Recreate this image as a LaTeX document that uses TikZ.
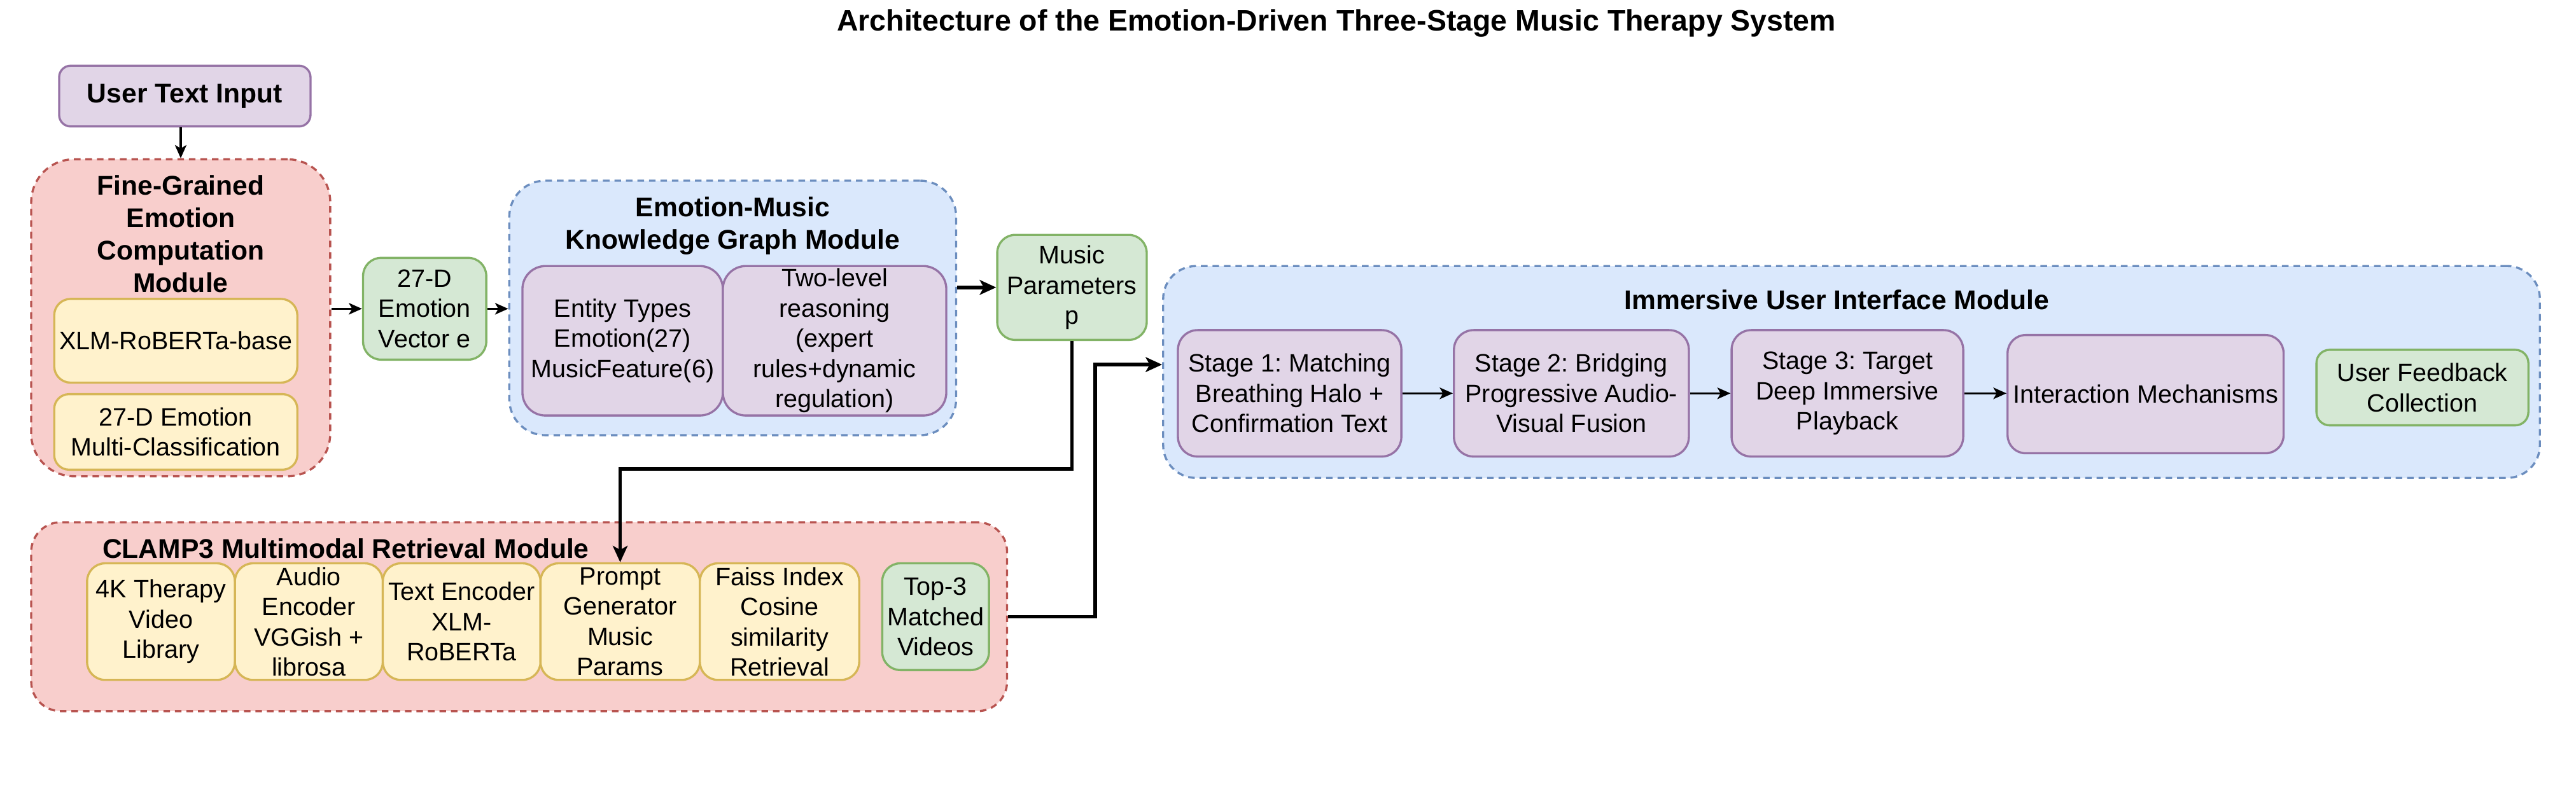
\documentclass[tikz,border=0pt]{standalone}
\usepackage{fontspec}
\setmainfont{Liberation Sans}
\usetikzlibrary{arrows.meta}
\frenchspacing
\definecolor{pfill}{HTML}{E1D5E7}\definecolor{pline}{HTML}{9673A6}
\definecolor{rfill}{HTML}{F8CECC}\definecolor{rline}{HTML}{B85450}
\definecolor{yfill}{HTML}{FFF2CC}\definecolor{yline}{HTML}{D6B656}
\definecolor{gfill}{HTML}{D5E8D4}\definecolor{gline}{HTML}{82B366}
\definecolor{bfill}{HTML}{DAE8FC}\definecolor{bline}{HTML}{6C8EBF}
\newcommand{\myfn}{\fontsize{15.3}{18.4}\selectfont}
\newcommand{\myfb}{\fontsize{16.5}{19.8}\selectfont\bfseries}
\newcommand{\myft}{\fontsize{18}{21.6}\selectfont\bfseries}
\begin{document}
\begin{tikzpicture}[x=1pt,y=-1pt,
  bx/.style={draw, line width=1.3pt, inner sep=0pt, align=center, font=\myfn},
  pbox/.style={bx, fill=pfill, draw=pline},
  ybox/.style={bx, fill=yfill, draw=yline},
  gbox/.style={bx, fill=gfill, draw=gline},
  rcont/.style={draw=rline, fill=rfill, dash pattern=on 4pt off 3pt, line width=1.3pt, inner sep=0pt},
  bcont/.style={draw=bline, fill=bfill, dash pattern=on 4pt off 3pt, line width=1.3pt, inner sep=0pt},
  ttl/.style={inner sep=0pt, align=center, font=\myfb},
  thin/.style={line width=1.3pt, -{Stealth[length=8pt,width=7pt,inset=2pt]}},
  thick/.style={line width=2.2pt, -{Stealth[length=10pt,width=9pt,inset=2.5pt]}}
]
\useasboundingbox[fill=white] (0,0) rectangle (1568,482);

\node[ttl, font=\myft] (title) at (813.5,14) {Architecture of the Emotion-Driven Three-Stage Music Therapy System};

% top input
\node[pbox, font=\myfb, minimum width=153pt, minimum height=37pt, rounded corners=7pt] (uti) at (112.5,58.5) {User Text Input};

% fine-grained container
\node[rcont, minimum width=182pt, minimum height=193pt, rounded corners=26pt] (fg) at (110,193.5) {};
\node[ttl] (fgt) at (110,142.5) {Fine-Grained\\Emotion\\Computation\\Module};
\node[ybox, minimum width=148pt, minimum height=51pt, rounded corners=10pt] (xlm) at (107,207.5) {XLM-RoBERTa-base};
\node[ybox, minimum width=148pt, minimum height=46pt, rounded corners=9pt] (mcls) at (107,263) {27-D Emotion\\Multi-Classification};

% emotion vector
\node[gbox, minimum width=75pt, minimum height=62pt, rounded corners=11pt] (vec) at (258.5,188) {27-D\\Emotion\\Vector e};

% KG container
\node[bcont, minimum width=272pt, minimum height=155pt, rounded corners=22pt] (kg) at (446,187.5) {};
\node[ttl] (kgt) at (446,137.5) {Emotion-Music\\Knowledge Graph Module};
\node[pbox, minimum width=122pt, minimum height=91pt, rounded corners=14pt] (ent) at (379,207.5) {Entity Types\\Emotion(27)\\MusicFeature(6)};
\node[pbox, minimum width=136pt, minimum height=91pt, rounded corners=14pt] (two) at (508,207.5) {Two-level\\reasoning\\(expert\\rules+dynamic\\regulation)};

% music params
\node[gbox, minimum width=91pt, minimum height=64pt, rounded corners=11pt] (mp) at (652.5,175) {Music\\Parameters\\p};

% UI container
\node[bcont, minimum width=838pt, minimum height=129pt, rounded corners=20pt] (ui) at (1127,226.5) {};
\node[ttl] (uit) at (1118,182.5) {Immersive User Interface Module};
\node[pbox, minimum width=136pt, minimum height=77pt, rounded corners=12pt] (s1) at (785,239.5) {Stage 1: Matching\\Breathing Halo +\\Confirmation Text};
\node[pbox, minimum width=143pt, minimum height=77pt, rounded corners=12pt] (s2) at (956.5,239.5) {Stage 2: Bridging\\Progressive Audio-\\Visual Fusion};
\node[pbox, minimum width=141pt, minimum height=77pt, rounded corners=12pt] (s3) at (1124.5,239.5) {Stage 3: Target\\Deep Immersive\\Playback};
\node[pbox, minimum width=168pt, minimum height=72pt, rounded corners=11pt] (im) at (1306,240) {Interaction Mechanisms};
\node[gbox, minimum width=129pt, minimum height=46pt, rounded corners=8pt] (uf) at (1474.5,236) {User Feedback\\Collection};

% CLAMP3 container
\node[rcont, minimum width=594pt, minimum height=115pt, rounded corners=18pt] (clamp) at (316,375.5) {};
\node[ttl] (clt) at (210.5,334) {CLAMP3 Multimodal Retrieval Module};
\node[ybox, minimum width=90pt, minimum height=71pt, rounded corners=11pt] (lib) at (98,378.5) {4K Therapy\\Video\\Library};
\node[ybox, minimum width=90pt, minimum height=71pt, rounded corners=11pt] (aud) at (188,378.5) {Audio\\Encoder\\VGGish +\\librosa};
\node[ybox, minimum width=96pt, minimum height=71pt, rounded corners=11pt] (txt) at (281,378.5) {Text Encoder\\XLM-\\RoBERTa};
\node[ybox, minimum width=97pt, minimum height=71pt, rounded corners=11pt] (prompt) at (377.5,378.5) {Prompt\\Generator\\Music\\Params};
\node[ybox, minimum width=97pt, minimum height=71pt, rounded corners=11pt] (faiss) at (474.5,378.5) {Faiss Index\\Cosine\\similarity\\Retrieval};
\node[gbox, minimum width=65pt, minimum height=65pt, rounded corners=11pt] (top) at (569.5,375.5) {Top-3\\Matched\\Videos};

% connectors
\draw[thin] (fg.north |- uti.south) -- (fg.north);
\draw[thin] (fg.east |- vec.west) -- (vec.west);
\draw[thin] (vec.east) -- (kg.west |- vec.east);
\draw[thick] (kg.east |- mp.west) -- (mp.west);
\coordinate (j1) at (0,285.5);
\draw[thick] (mp.south) |- (prompt.north |- j1) -- (prompt.north);
\coordinate (j2) at (666.5,222);
\draw[thick] (clamp.east) -| (j2) -- (j2 -| ui.west);
\draw[thin] (s1) -- (s2);
\draw[thin] (s2) -- (s3);
\draw[thin] (s3.east) -- (im.west |- s3.east);
\end{tikzpicture}
\end{document}
